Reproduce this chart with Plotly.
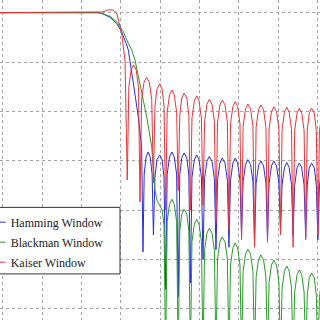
import plotly.graph_objects as go

# Normalized frequency (x pi rad/sample) and magnitude (dB)
series_names = ["Hamming Window", "Blackman Window", "Kaiser Window"]
series_colors = ["#2b2bdc", "#2a9a2a", "#e5363e"]

# passband / transition part of each curve
hamming_head_x = [0.0, 0.3422, 0.3549, 0.3727, 0.3897, 0.4024, 0.4151, 0.4192, 0.4319, 0.4446, 0.4532,
                  0.4565, 0.4596, 0.4644, 0.4696, 0.4748, 0.4797]
hamming_head_y = [0.0, 0.0, -0.5, -1.9, -4.4, -7.8, -13.1, -15.1, -28.5, -42.2, -54.4,
                  -96.9, -65.4, -58.4, -56.4, -58.4, -65.4]

blackman_head_x = [0.0, 0.3422, 0.3549, 0.3727, 0.3897, 0.4065, 0.4192, 0.4278, 0.4362, 0.4489, 0.4660, 0.4787]
blackman_head_y = [0.0, 0.0, -0.4, -1.5, -3.6, -7.7, -12.4, -15.1, -19.2, -28.5, -42.2, -54.4]

kaiser_head_x = [0.0, 0.3422, 0.3549, 0.3676, 0.3803, 0.3897, 0.3981, 0.4024, 0.4065, 0.4108, 0.4166,
                 0.4205, 0.4263, 0.4328, 0.4393, 0.4451, 0.4489,
                 0.4530, 0.4591, 0.4658, 0.4726, 0.4787]
kaiser_head_y = [0.0, 0.0, 0.3, 1.1, 1.1, -0.2, -5.0, -8.2, -13.8, -19.2, -67.8,
                 -30.2, -23.2, -21.2, -23.2, -30.2, -76.7,
                 -35.2, -28.2, -26.2, -28.2, -35.2]

# stopband side-lobes (shared frequency samples)
lobe_x = [0.483, 0.487, 0.492, 0.499, 0.505, 0.510,
          0.514, 0.518, 0.524, 0.530, 0.536, 0.542,
          0.546, 0.550, 0.555, 0.561, 0.568, 0.573,
          0.577, 0.581, 0.587, 0.593, 0.599, 0.605,
          0.609, 0.613, 0.619, 0.625, 0.632, 0.638,
          0.642, 0.646, 0.652, 0.658, 0.665, 0.671,
          0.675, 0.679, 0.685, 0.691, 0.697, 0.703,
          0.707, 0.711, 0.717, 0.723, 0.730, 0.736,
          0.740, 0.744, 0.750, 0.756, 0.763, 0.769,
          0.773, 0.777, 0.783, 0.789, 0.796, 0.802,
          0.806, 0.810, 0.816, 0.822, 0.828, 0.834,
          0.838, 0.842, 0.848, 0.854, 0.860, 0.866,
          0.870, 0.874, 0.879, 0.885, 0.892, 0.897,
          0.901, 0.905, 0.911, 0.917, 0.923, 0.929,
          0.933]

hamming_lobe_y = [-90, -66.6, -59.6, -57.6, -59.6, -66.6,
                  -112, -65.4, -58.4, -56.4, -58.4, -65.4,
                  -115, -65.8, -58.8, -56.8, -58.8, -65.8,
                  -109.5, -66.6, -59.6, -57.6, -59.6, -66.6,
                  -100, -67.2, -60.2, -58.2, -60.2, -67.2,
                  -96, -67.9, -60.9, -58.9, -60.9, -67.9,
                  -95, -67.9, -60.9, -58.9, -60.9, -67.9,
                  -90, -68.5, -61.5, -59.5, -61.5, -68.5,
                  -94, -69.1, -62.1, -60.1, -62.1, -69.1,
                  -92, -69.1, -62.1, -60.1, -62.1, -69.1,
                  -89, -69.7, -62.7, -60.7, -62.7, -69.7,
                  -90, -69.9, -62.9, -60.9, -62.9, -69.9,
                  -91, -69.9, -62.9, -60.9, -62.9, -69.9,
                  -92, -70.1, -63.1, -61.1, -63.1, -70.1,
                  -92]

blackman_lobe_y = [-63.8, -71.9, -75.9, -77.9, -79.9, -86.0,
                   -140, -84.6, -77.6, -75.6, -77.6, -84.6,
                   -140, -88.6, -81.6, -79.6, -81.6, -88.6,
                   -140, -92.7, -85.7, -83.7, -85.7, -92.7,
                   -140, -96.3, -89.3, -87.3, -89.3, -96.3,
                   -140, -99.8, -92.8, -90.8, -92.8, -99.8,
                   -140, -102.2, -95.2, -93.2, -95.2, -102.2,
                   -140, -104.8, -97.8, -95.8, -97.8, -104.8,
                   -140, -107.1, -100.1, -98.1, -100.1, -107.1,
                   -140, -109.2, -102.2, -100.2, -102.2, -109.2,
                   -140, -111.6, -104.6, -102.6, -104.6, -111.6,
                   -140, -113.2, -106.2, -104.2, -106.2, -113.2,
                   -140, -114.4, -107.4, -105.4, -107.4, -114.4,
                   -140, -115.0, -108.0, -106.0, -108.0, -115.0,
                   -140]

kaiser_lobe_y = [-69, -37.9, -30.9, -28.9, -30.9, -37.9,
                 -80, -40.3, -33.3, -31.3, -33.3, -40.3,
                 -72, -41.6, -34.6, -32.6, -34.6, -41.6,
                 -80, -42.7, -35.7, -33.7, -35.7, -42.7,
                 -78, -44.1, -37.1, -35.1, -37.1, -44.1,
                 -85, -44.4, -37.4, -35.4, -37.4, -44.4,
                 -88, -45.0, -38.0, -36.0, -38.0, -45.0,
                 -92, -46.0, -39.0, -37.0, -39.0, -46.0,
                 -95, -46.4, -39.4, -37.4, -39.4, -46.4,
                 -93, -47.1, -40.1, -38.1, -40.1, -47.1,
                 -90, -47.3, -40.3, -38.3, -40.3, -47.3,
                 -95, -47.7, -40.7, -38.7, -40.7, -47.7,
                 -92, -47.7, -40.7, -38.7, -40.7, -47.7,
                 -90, -48.0, -41.0, -39.0, -41.0, -48.0,
                 -90]

curves = [
    (hamming_head_x + lobe_x, hamming_head_y + hamming_lobe_y),
    (blackman_head_x + lobe_x, blackman_head_y + blackman_lobe_y),
    (kaiser_head_x + lobe_x, kaiser_head_y + kaiser_lobe_y),
]

fig = go.Figure()
for (xs, ys), name, col in zip(curves, series_names, series_colors):
    fig.add_trace(go.Scatter(x=xs, y=ys, mode="lines", name=name, legendgroup=name,
                             line=dict(color=col, width=1)))

grid = dict(showgrid=True, gridcolor="#a6a6a6", gridwidth=1, griddash="3px,3px",
            zeroline=False, showticklabels=False, ticks="", showline=False)

fig.update_layout(
    width=320, height=320,
    margin=dict(l=0, r=0, t=0, b=0, pad=0, autoexpand=False),
    paper_bgcolor="white", plot_bgcolor="white",
    xaxis=dict(range=[0.0931, 0.9064], dtick=0.1, tick0=0, **grid),
    yaxis=dict(range=[-124.47, 5.14], dtick=20, tick0=0, **grid),
    showlegend=True,
    legend=dict(x=-0.0916, y=0.351, xanchor="left", yanchor="top",
                bgcolor="rgba(0,0,0,0)", borderwidth=0, tracegroupgap=1,
                font=dict(family="Liberation Serif, Times New Roman, serif", size=12, color="#222")),
    shapes=[dict(type="rect", xref="paper", yref="paper", x0=-0.05, x1=0.375, y0=0.144, y1=0.352,
                 fillcolor="white", line=dict(color="#333", width=1), layer="above")],
)

fig.write_html("out.html")
